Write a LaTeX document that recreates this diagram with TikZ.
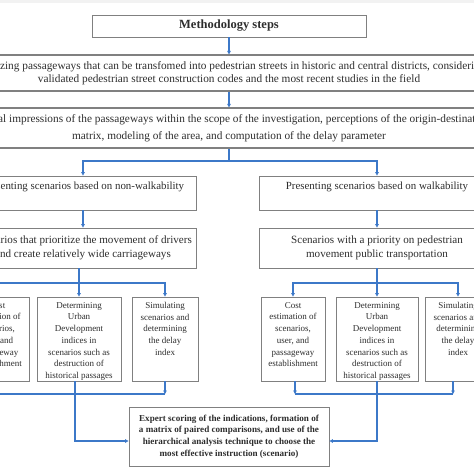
\documentclass[tikz,border=0pt]{standalone}
\usepackage{fontspec}
\setmainfont{Liberation Serif}
\usetikzlibrary{arrows.meta}
\definecolor{boxgray}{RGB}{128,128,128}
\definecolor{conblue}{RGB}{60,120,200}
\definecolor{txt}{RGB}{45,45,45}
\begin{document}
\begin{tikzpicture}[x=1pt,y=-1pt,
  box/.style={draw=boxgray, line width=0.8pt, inner sep=0pt, text=txt},
  bigbox/.style={draw=boxgray, line width=1.1pt, inner sep=0pt, align=center, text=txt},
  conn/.style={draw=conblue, line width=1.3pt},
  arr/.style={conn, -{Triangle[length=3.5pt,width=3.5pt]}},
  lab/.style={anchor=north, inner sep=0pt, align=center, text=txt},
  toplab/.style={lab, yshift=-6pt, font=\fontsize{10.9}{13.5}\selectfont},
  smlab/.style={lab, yshift=-5.5pt, font=\fontsize{9}{11.7}\selectfont},
  midbox/.style={box, align=center, font=\fontsize{11.1}{14}\selectfont},
]
\useasboundingbox (0,0) rectangle (474,474);
\fill[gray!10] (0,0) rectangle (474,3);
\begin{scope}
\clip (0,0) rectangle (474,474);
\node[box, minimum width=274pt, minimum height=22pt, font=\bfseries\fontsize{12.5}{14}\selectfont] (ms) at (229,26) {Methodology steps};
\node[bigbox, minimum width=560pt, minimum height=36pt, font=\fontsize{11.3}{13.5}\selectfont] (b2) at (229,73) {Analyzing passageways that can be transfomed into pedestrian streets in historic and central districts, considering\\validated pedestrian street construction codes and the most recent studies in the field};
\node[bigbox, minimum width=560pt, minimum height=40pt, font=\fontsize{11.3}{16.5}\selectfont] (b3) at (229,128) {Physical impressions of the passageways within the scope of the investigation, perceptions of the origin-destination\\matrix, modeling of the area, and computation of the delay parameter};
% second tier
\node[box, minimum width=226pt, minimum height=34pt, label={[toplab]north:Presenting scenarios based on non-walkability}] (l1) at (83,193) {};
\node[box, minimum width=236pt, minimum height=34pt, label={[toplab]north:Presenting scenarios based on walkability}] (r1) at (377,193) {};
\node[midbox, minimum width=226pt, minimum height=40pt] (l2) at (83,248) {Scenarios that prioritize the movement of drivers\\and create relatively wide carriageways};
\node[midbox, minimum width=236pt, minimum height=40pt] (r2) at (377,248) {Scenarios with a priority on pedestrian\\movement public transportation};
% lower tier left
\node[box, minimum width=64pt, minimum height=84pt, label={[smlab]north:Cost\\estimation of\\scenarios,\\user, and\\passageway\\establishment}] (lc) at (-3,339) {};
\node[box, minimum width=84pt, minimum height=84pt, label={[smlab]north:Determining\\Urban\\Development\\indices in\\scenarios such as\\destruction of\\historical passages}] (ld) at (79,339) {};
\node[box, minimum width=66pt, minimum height=84pt, label={[smlab]north:Simulating\\scenarios and\\determining\\the delay\\index}] (ls) at (165,339) {};
% lower tier right
\node[box, minimum width=64pt, minimum height=84pt, label={[smlab]north:Cost\\estimation of\\scenarios,\\user, and\\passageway\\establishment}] (rc) at (293,339) {};
\node[box, minimum width=82pt, minimum height=84pt, label={[smlab]north:Determining\\Urban\\Development\\indices in\\scenarios such as\\destruction of\\historical passages}] (rd) at (377,339) {};
\node[box, minimum width=66pt, minimum height=84pt, label={[smlab]north:Simulating\\scenarios and\\determining\\the delay\\index}] (rs) at (458,339) {};
% expert
\node[box, minimum width=200pt, minimum height=59pt, align=center, font=\bfseries\fontsize{9.1}{11.7}\selectfont] (ex) at (229,436.5) {Expert scoring of the indications, formation of\\a matrix of paired comparisons, and use of the\\hierarchical analysis technique to choose the\\most effective instruction (scenario)};
% connectors
\draw[arr] (ms) -- (b2);
\draw[arr] (b2) -- (b3);
\coordinate (sp) at (229,161);
\draw[conn] (b3) -- (sp);
\draw[arr] (sp) -| (l1);
\draw[arr] (sp) -| (r1);
\draw[arr] (l1) -- (l2);
\draw[arr] (r1) -- (r2);
\coordinate (lb) at (79,283);
\coordinate (rb) at (377,283);
\draw[conn] (l2.south -| lb) -- (lb);
\draw[conn] (r2.south -| rb) -- (rb);
\draw[arr] (lb) -- (ld);
\draw[arr] (lb) -| (lc);
\draw[arr] (lb) -| (ls);
\draw[arr] (rb) -- (rd);
\draw[arr] (rb) -| (rc);
\draw[arr] (rb) -| (rs);
\coordinate (yb) at (0,394);
\draw[conn] (lc.south |- yb) -- (ls.south |- yb);
\draw[arr] (lc) -- (lc.south |- yb);
\draw[arr] (ls) -- (ls.south |- yb);
\draw[conn] ([xshift=2pt]rc.south |- yb) -- ([xshift=-5pt]rs.south |- yb);
\draw[arr] ([xshift=2pt]rc.south) -- ([xshift=2pt]rc.south |- yb);
\draw[arr] ([xshift=-5pt]rs.south) -- ([xshift=-5pt]rs.south |- yb);
\draw[arr] ([xshift=-4pt]ld.south) |- ([yshift=-4.5pt]ex.west);
\draw[arr] (rd.south) |- ([yshift=-4.5pt]ex.east);
\end{scope}
\end{tikzpicture}
\end{document}
